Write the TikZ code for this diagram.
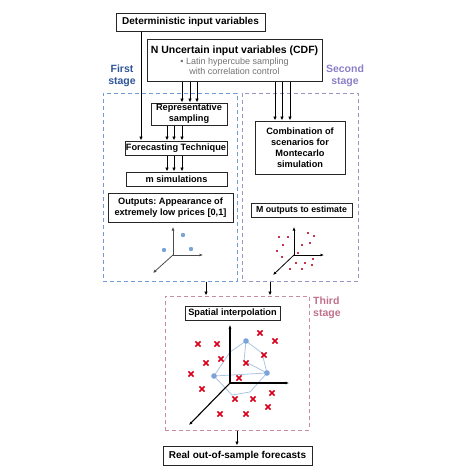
\documentclass[tikz,border=0pt]{standalone}
\usepackage{fontspec}
\setmainfont{Liberation Sans}
\usetikzlibrary{arrows.meta}
\frenchspacing

\definecolor{firstblue}{HTML}{2F5597}
\definecolor{firstdash}{HTML}{6F9BD9}
\definecolor{secondlabel}{HTML}{8B7FC7}
\definecolor{seconddash}{HTML}{9696C4}
\definecolor{thirdlabel}{HTML}{C0708A}
\definecolor{thirddash}{HTML}{C98CA2}
\definecolor{ptblue}{HTML}{7BA3D8}
\definecolor{hullblue}{HTML}{A9C4E4}
\definecolor{xred}{HTML}{D9001B}
\definecolor{sqred}{HTML}{C8344E}

\tikzset{
  box/.style={draw=black!85,line width=1pt,fill=white,align=center,inner sep=0pt,
    font=\bfseries\fontsize{9.2}{11}\selectfont},
  bigbox/.style={box,font=\bfseries\fontsize{10}{11}\selectfont},
  stagebox/.style={draw=#1,dashed,dash pattern=on 4pt off 3pt,line width=1pt,inner sep=0pt},
  stagelabel/.style={text=#1,font=\bfseries\fontsize{10.5}{12}\selectfont,inner sep=0pt},
  arr/.style={-{Latex[length=4pt,width=3.5pt]},line width=0.8pt},
  ax/.style={-{Latex[length=3.5pt,width=3pt]},line width=0.8pt},
  xmark/.style={xred,line width=1.7pt},
}

\begin{document}
\begin{tikzpicture}[x=1pt,y=-1pt]
  \useasboundingbox (0,0) rectangle (474,474);
  %% Stage frames
  \node[stagebox=firstdash,minimum width=134pt,minimum height=188pt] (first) at (170,187) {};
  \node[stagebox=seconddash,minimum width=116pt,minimum height=188pt] (second) at (300,187) {};
  \node[stagebox=thirddash,minimum width=144pt,minimum height=134pt] (third) at (237,363) {};
  \node[stagelabel=firstblue,align=center] (firstlab) at (122,76) {First\\stage};
  \node[stagelabel=secondlabel,align=center] (secondlab) at (345,76) {Second\\stage};
  \node[stagelabel=thirdlabel,align=left,anchor=west] (thirdlab) at (313,308) {Third\\stage};
  %% Inputs
  \node[bigbox,minimum width=149pt,minimum height=18pt] (det) at (190.5,22) {Deterministic input variables};
  \node[box,minimum width=175pt,minimum height=42pt] (unc) at (234.5,60)
    {{\fontsize{10.5}{12}\selectfont N Uncertain input variables (CDF)}\\[-0.5pt]
     {\mdseries\color{black!55}\fontsize{9}{9.5}\selectfont • Latin hypercube sampling}\\[-1pt]
     {\mdseries\color{black!55}\fontsize{9}{9.5}\selectfont with correlation control}};
  %% First stage
  \node[box,minimum width=76pt,minimum height=22pt] (rep) at (189,114) {Representative\\sampling};
  \node[box,minimum width=102pt,minimum height=14pt] (fore) at (176,148) {Forecasting Technique};
  \node[box,minimum width=101pt,minimum height=14pt] (msim) at (176.5,179) {m simulations};
  \node[box,minimum width=125pt,minimum height=29pt] (outp) at (170.5,207.5) {Outputs: Appearance of\\extremely low prices [0,1]};
  %% Second stage
  \node[box,minimum width=90pt,minimum height=53pt] (comb) at (300,147.5) {Combination of\\scenarios for\\Montecarlo\\simulation};
  \node[box,minimum width=101pt,minimum height=14pt,font=\bfseries\fontsize{8.8}{11}\selectfont] (mout) at (301.5,210) {M outputs to estimate};
  %% Third stage and result
  \node[box,minimum width=95pt,minimum height=14pt] (spat) at (232.5,313) {Spatial interpolation};
  \node[bigbox,minimum width=149pt,minimum height=19pt] (real) at (237.5,455.5) {Real out-of-sample forecasts};
  %% Arrows between boxes
  \draw[arr] (141,0 |- det.south) -- (141,0 |- fore.north);
  \foreach \x in {182,190,197}
    \draw[arr] (\x,0 |- unc.south) -- (\x,0 |- rep.north);
  \foreach \x in {275,282,290}
    \draw[arr] (\x,0 |- unc.south) -- (\x,0 |- comb.north);
  \foreach \x in {167,174,182}{
    \draw[arr] (\x,0 |- rep.south) -- (\x,0 |- fore.north);
    \draw[arr] (\x,0 |- fore.south) -- (\x,0 |- msim.north);
  }
  \draw[arr] (206,0 |- first.south) -- (206,0 |- third.north);
  \draw[arr] (270,0 |- second.south) -- (270,0 |- third.north);
  \draw[arr] (237,0 |- third.south) -- (237,0 |- real.north);
  %% First stage plot
  \coordinate (o1) at (173,255);
  \draw[ax,black!70] (o1) -- ++(0,-28);
  \draw[ax,black!70] (o1) -- ++(30,0);
  \draw[ax,black!70] (o1) -- ++(-20,18);
  \foreach \p in {(183,235),(164,250),(191,249)}
    \fill[ptblue] \p circle (2.2);
  %% Second stage plot
  \coordinate (o2) at (294,255);
  \foreach \p in {(279,237),(288,237),(308,233),(314,236),(283,245),(302,245),(310,243),(277,251),
      (298,253),(282,257),(296,263),(305,263),(313,259),(290,269),(302,269),(312,265)}
    \fill[sqred] \p ++(-1.2,-1.2) rectangle ++(2.4,2.4);
  \draw[ax] (o2) -- ++(0,-28);
  \draw[ax] (o2) -- ++(30,0);
  \draw[ax] (o2) -- ++(-21,20);
  %% Third stage plot
  \coordinate (o3) at (230,383);
  \coordinate (hl) at (214,376);
  \coordinate (ht) at (246,341);
  \coordinate (hr) at (267,373);
  \draw[hullblue,line width=0.8pt] (hl) -- (230,352) -- (ht) -- (262,353) -- (hr) -- (250,392) -- (232,395) -- cycle;
  \draw[hullblue,line width=0.8pt] (ht) -- (244,361) -- (hr) -- (hl);
  \foreach \p in {(198,344),(217,344),(260,333),(275,341),(206,363),(221,359),(246,363),(264,355),(191,374),
      (239,378),(202,389),(235,399),(253,399),(272,393),(268,407),(220,414),(246,414)}
    \draw[xmark] \p +(-2.6,-2.6) -- +(2.6,2.6) +(-2.6,2.6) -- +(2.6,-2.6);
  \draw[ax,line width=1.1pt] (o3) -- ++(0,-58);
  \draw[ax,line width=1.1pt] (o3) -- ++(59,0);
  \draw[ax,line width=1.1pt] (o3) -- ++(-41,42);
  \foreach \p in {(hl),(ht),(hr)}
    \fill[ptblue] \p circle (2.8);
\end{tikzpicture}
\end{document}
